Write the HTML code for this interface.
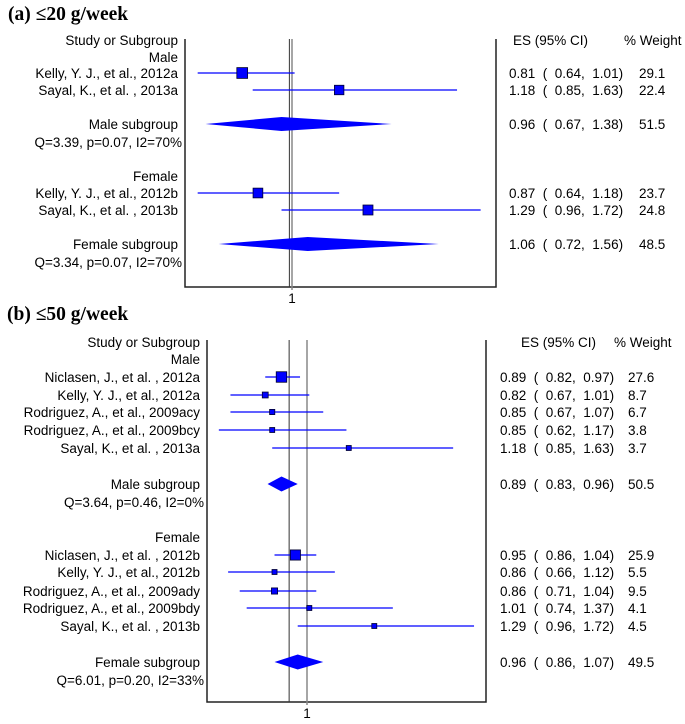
<!DOCTYPE html>
<html><head><meta charset="utf-8"><style>
body{margin:0;background:#fff;width:685px;height:724px;overflow:hidden}
svg{display:block;font-family:"Liberation Sans",sans-serif}
svg text{white-space:pre}
.t{font-family:"Liberation Serif",serif;font-weight:bold;font-size:19.5px}
</style></head><body>
<svg id="c" width="685" height="724">
<text class="t" x="8" y="20">(a) ≤20 g/week</text>
<text class="t" x="7" y="320">(b) ≤50 g/week</text>
</svg>
<script>
// Panel A data
const aLabels=["Kelly, Y. J., et al., 2012a","Sayal, K., et al. , 2013a","Male subgroup","Kelly, Y. J., et al., 2012b","Sayal, K., et al. , 2013b","Female subgroup"];
const aES=[0.81,1.18,0.96,0.87,1.29,1.06];
const aLo=[0.64,0.85,0.67,0.64,0.96,0.72];
const aHi=[1.01,1.63,1.38,1.18,1.72,1.56];
const aW=[29.1,22.4,51.5,23.7,24.8,48.5];
const aType=["s","s","d","s","s","d"];
// Panel B data
const bLabels=["Niclasen, J., et al. , 2012a","Kelly, Y. J., et al., 2012a","Rodriguez, A., et al., 2009acy","Rodriguez, A., et al., 2009bcy","Sayal, K., et al. , 2013a","Male subgroup","Niclasen, J., et al. , 2012b","Kelly, Y. J., et al., 2012b","Rodriguez, A., et al., 2009ady","Rodriguez, A., et al., 2009bdy","Sayal, K., et al. , 2013b","Female subgroup"];
const bES=[0.89,0.82,0.85,0.85,1.18,0.89,0.95,0.86,0.86,1.01,1.29,0.96];
const bLo=[0.82,0.67,0.67,0.62,0.85,0.83,0.86,0.66,0.71,0.74,0.96,0.86];
const bHi=[0.97,1.01,1.07,1.17,1.63,0.96,1.04,1.12,1.04,1.37,1.72,1.07];
const bW=[27.6,8.7,6.7,3.8,3.7,50.5,25.9,5.5,9.5,4.1,4.5,49.5];
const bType=["s","s","s","s","s","d","s","s","s","s","s","d"];
const aQ=["Q=3.39, p=0.07, I2=70%","Q=3.34, p=0.07, I2=70%"];
const bQ=["Q=3.64, p=0.46, I2=0%","Q=6.01, p=0.20, I2=33%"];

const NS="http://www.w3.org/2000/svg";
const FS=13.5;
const svg=document.getElementById('c');
function mk(tag,attrs,txt){const e=document.createElementNS(NS,tag);for(const k in attrs)e.setAttribute(k,attrs[k]);if(txt!==undefined)e.textContent=txt;svg.appendChild(e);return e;}
function f2(v){return v.toFixed(2);}

function panel(p){
  const xs=v=>p.x1+(v-1)*p.ppu;
  let e=mk('path',{d:`M${p.L} ${p.T}V${p.B}H${p.R}V${p.T}`,fill:'none',stroke:'#222','stroke-width':1.5});
  
  
  e=mk('line',{x1:xs(p.ov),x2:xs(p.ov),y1:p.T,y2:p.B,stroke:'#333','stroke-width':1});
  
  
  e=mk('line',{x1:xs(1),x2:xs(1),y1:p.T,y2:p.B+3,stroke:'#888','stroke-width':1.5});
  
  
  e=mk('text',{x:xs(1),y:p.B+16,'font-size':FS,'text-anchor':'middle'},'1');
  
  
  const hdr=[["Study or Subgroup",p.labX,'end'],["ES (95% CI)",p.esHX,'start'],["% Weight",p.wHX,'start']];
  hdr.forEach((h,i)=>{e=mk('text',{x:h[1],y:p.hy,'font-size':FS,'text-anchor':h[2]},h[0]);
    
    });
  p.groups.forEach((g,i)=>{e=mk('text',{x:p.labX,y:g[1],'font-size':FS,'text-anchor':'end'},g[0]);
    
    });
  p.Q.forEach((q,i)=>{e=mk('text',{x:p.qX,y:p.qY[i],'font-size':FS,'text-anchor':'end'},q);
    
    });
  p.labels.forEach((lab,i)=>{
    const y=p.ys[i];
    e=mk('text',{x:p.labX,y:y+5,'font-size':FS,'text-anchor':'end'},lab);
    
    
    if(p.type[i]==='s'){
      e=mk('line',{x1:xs(p.lo[i]),x2:xs(p.hi[i]),y1:y,y2:y,stroke:'#0000ff','stroke-width':1.3});
      
      
      const s=Math.max(5,2*Math.sqrt(p.w[i]));
      e=mk('rect',{x:xs(p.es[i])-s/2,y:y-s/2,width:s,height:s,fill:'#0000ff',stroke:'#000030','stroke-width':0.8});
      
      
    }else{
      const h=p.dh;
      e=mk('polygon',{points:`${xs(p.lo[i])},${y} ${xs(p.es[i])},${y-h} ${xs(p.hi[i])},${y} ${xs(p.es[i])},${y+h}`,fill:'#0000ff'});
      
      
    }
    e=mk('text',{x:p.esX,y:y+5,'font-size':FS},`${f2(p.es[i])}  (  ${f2(p.lo[i])},  ${f2(p.hi[i])})`);
    
    
    e=mk('text',{x:p.wX,y:y+5,'font-size':FS},p.w[i].toFixed(1));
    
    
  });
}
panel({id:'panel-a',L:185,R:496,T:39,B:287,x1:292,ppu:262,ov:0.99,labX:178,hy:45,esHX:513,wHX:624,esX:509,wX:639,
  groups:[["Male",62],["Female",181]],Q:aQ,qX:182,qY:[147,267],dh:7,
  labels:aLabels,es:aES,lo:aLo,hi:aHi,w:aW,type:aType,ys:[73,90,124,193,210,244]});
panel({id:'panel-b',L:207,R:486,T:340,B:702,x1:307,ppu:232,ov:0.923,labX:200,hy:347,esHX:521,wHX:614,esX:500,wX:628,
  groups:[["Male",364],["Female",542]],Q:bQ,qX:204,qY:[507,685],dh:7.5,
  labels:bLabels,es:bES,lo:bLo,hi:bHi,w:bW,type:bType,ys:[377,395,412,430,448,484,555,572,591,608,626,662]});
</script>
</body></html>
